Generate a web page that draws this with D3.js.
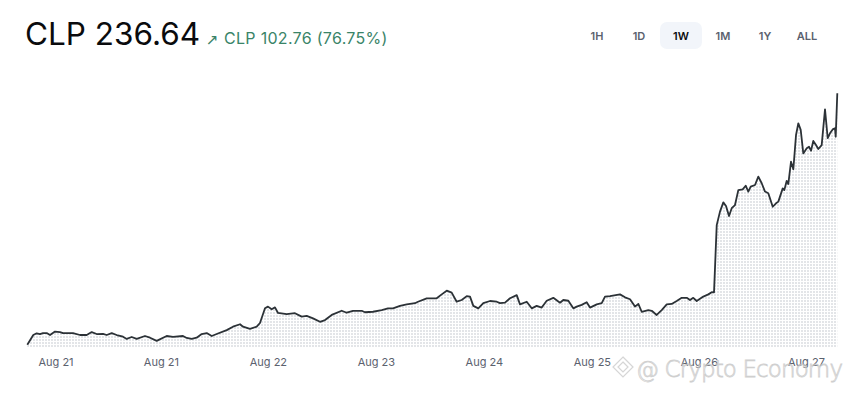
<!DOCTYPE html>
<html>
<head>
<meta charset="utf-8">
<script src="https://cdn.jsdelivr.net/npm/d3@7"></script>
<style>
  html, body { margin: 0; padding: 0; background: #ffffff; }
  svg { display: block; }
</style>
</head>
<body>
<svg id="chart" width="850" height="395"></svg>
<script>
// ---- data ----
const priceLabel = "CLP 236.64";
const changeLabel = "CLP 102.76 (76.75%)";
const ranges = ["1H", "1D", "1W", "1M", "1Y", "ALL"];
const activeRange = "1W";
const tickLabels = ["Aug 21", "Aug 21", "Aug 22", "Aug 23", "Aug 24", "Aug 25", "Aug 26", "Aug 27"];
const tickHours = [5.85, 27.7, 49.9, 72.3, 94.7, 117.1, 139.3, 161.5];
const hours = [0,1.24,1.95,2.63,3.26,4.02,4.71,5.75,6.78,7.4,9.48,10.93,12.32,13.36,14.39,15.7,16.47,17.51,18.54,19.85,20.62,21.65,22.69,24.41,25.45,26.84,28.91,30.22,32.29,33.06,34.1,35.13,36.17,37.21,38.25,39.28,41.36,42.66,44.12,44.74,46.19,47.58,48.26,49.3,49.92,50.69,51.37,52,53.8,55.52,56.91,57.95,59.26,60.71,61.75,63.14,65.21,66.25,67.55,69.36,70.04,71.7,73.51,74.81,75.85,77.3,78.69,80.41,81.03,82.84,84.91,85.95,86.99,88.02,89.06,90.1,91.14,91.82,92.51,93.54,94.58,95.97,97.36,98.04,99.08,100.12,101.51,102.19,103.58,104.62,105.65,106.69,107.73,109.1,110.49,111.17,112.21,113.25,113.95,114.99,116.02,116.71,118.1,119.14,119.82,120.86,122.93,123.97,125.01,126.04,126.73,127.43,128.8,129.51,130.54,131.58,132.62,133.65,134.69,135.73,136.77,137.45,138.13,138.84,140.21,141.25,141.95,142.43,142.99,143.67,144.36,144.92,145.54,146.1,146.78,147.47,148.38,149,149.54,150.04,150.93,151.62,152.32,153.01,153.69,154.61,155.29,155.77,156.68,157.01,157.51,157.84,158.4,158.88,159.44,159.92,160.41,160.95,161.66,162.13,162.55,163.02,163.58,164.06,164.76,165.45,166.01,166.48,167.04,167.52,167.67,168];
const prices = [133.9,137.9,138.6,138.3,138.7,138.7,137.9,139.3,139.1,138.7,138.7,137.9,137.9,139.1,138.3,138.4,137.9,138.7,137.9,137.2,136.3,137.1,136.3,137.5,136.8,135.5,137.5,137.1,137.5,136.7,136.3,136.8,138.3,138.7,137.5,138.3,139.9,141.3,142.3,141.3,140.4,141.3,142.8,148.8,149.5,148.4,149.2,146.9,146.4,146.8,145.4,145.7,144.7,143.3,144.0,146.1,147.8,147.0,147.8,147.8,147.2,147.4,148.1,148.8,148.8,149.8,150.4,150.9,151.5,152.9,152.9,154.5,156.0,155.2,151.5,152.2,153.8,153.6,149.8,148.8,150.9,151.8,151.5,150.9,151.1,152.9,154.2,150.4,151.5,148.8,149.8,149.1,151.9,153.1,151.1,152.2,151.9,148.8,149.5,150.2,151.3,149.1,150.4,150.9,153.6,153.8,154.5,153.3,152.5,149.5,150.6,147.4,148.1,147.8,146.1,148.1,150.4,150.6,151.8,153.1,153.1,152.2,153.1,151.8,153.6,154.5,155.4,155.3,182.8,188.3,192.1,190.6,186.5,189.7,191.0,197.1,197.4,198.9,196.5,198.5,199.2,202.6,199.9,196.5,195.8,190.3,191.7,192.4,197.8,197.1,200.9,199.6,208.7,205.6,219.6,224.4,221.7,212.1,214.2,214.8,213.2,217.2,215.5,213.9,215.5,230.1,218.3,220.3,221.9,222.4,218.9,236.64];

// ---- drawing ----
const svg = d3.select("#chart");
const data = hours.map((h, i) => ({ h, v: prices[i] }));

const x = d3.scaleLinear().domain([0, 168]).range([27.3, 837.3]);
const y = d3.scaleLinear().domain([133, 238]).range([347, 90]);

// dotted fill pattern
const defs = svg.append("defs");
const pat = defs.append("pattern")
  .attr("id", "dots").attr("patternUnits", "userSpaceOnUse")
  .attr("width", 3).attr("height", 3);
pat.append("rect").attr("x", 0).attr("y", 0).attr("width", 2).attr("height", 2)
  .attr("fill", "#e3e5e8");

svg.append("path")
  .datum(data)
  .attr("fill", "url(#dots)")
  .attr("d", d3.area().x(d => x(d.h)).y0(y(133)).y1(d => y(d.v)));

svg.append("path")
  .datum(data)
  .attr("fill", "none")
  .attr("stroke", "#2c3237")
  .attr("stroke-width", 1.8)
  .attr("stroke-linejoin", "round")
  .attr("d", d3.line().x(d => x(d.h)).y(d => y(d.v)));

// x axis labels
const axis = d3.axisBottom(x)
  .tickValues(tickHours)
  .tickSize(0)
  .tickFormat((d, i) => tickLabels[i]);
const gx = svg.append("g").attr("transform", "translate(0,355)").call(axis);
gx.select(".domain").remove();
gx.selectAll("text")
  .attr("font-family", "Inter, 'Open Sans', sans-serif")
  .attr("font-size", 11)
  .attr("fill", "#5b616e");

// header
svg.append("text")
  .attr("x", 25).attr("y", 45)
  .attr("font-family", "Inter, 'Open Sans', sans-serif")
  .attr("font-size", 31.5)
  .attr("fill", "#0a0b0d")
  .text(priceLabel);

svg.append("text")
  .attr("x", 206).attr("y", 45)
  .attr("font-family", "'DejaVu Sans', sans-serif")
  .attr("font-size", 15)
  .attr("fill", "#3a8468")
  .text("\u2197");

svg.append("text")
  .attr("x", 224).attr("y", 44)
  .attr("font-family", "Inter, 'Open Sans', sans-serif")
  .attr("font-size", 16)
  .attr("letter-spacing", 0.3)
  .attr("fill", "#3a8468")
  .text(changeLabel);

// range buttons
const btnCenters = d3.scalePoint().domain(ranges).range([597, 807]);
const btn = svg.append("g");
btn.append("rect")
  .attr("x", btnCenters(activeRange) - 21).attr("y", 22)
  .attr("width", 42).attr("height", 27).attr("rx", 7)
  .attr("fill", "#f2f5fa");
btn.selectAll("text").data(ranges).join("text")
  .attr("x", d => btnCenters(d)).attr("y", 40)
  .attr("text-anchor", "middle")
  .attr("font-family", "Inter, 'Open Sans', sans-serif")
  .attr("font-size", 11)
  .attr("font-weight", 600)
  .attr("fill", d => d === activeRange ? "#0a0b0d" : "#5b616e")
  .text(d => d);

// watermark
const wm = svg.append("g").attr("opacity", 0.8);
wm.append("path")
  .attr("d", "M623,357 L633,367 L623,377 L613,367 Z M623,362 L628,367 L623,372 L618,367 Z")
  .attr("fill", "none").attr("stroke", "#cccccc").attr("stroke-width", 1.2);
wm.append("text")
  .attr("x", 636).attr("y", 377)
  .attr("font-family", "'DejaVu Sans', sans-serif")
  .attr("font-weight", 200)
  .attr("font-size", 23)
  .attr("fill", "rgba(255,255,255,0.55)")
  .attr("stroke", "#c4c4c4").attr("stroke-width", 0.8)
  .attr("textLength", 207)
  .text("@ Crypto Economy");
</script>
</body>
</html>
